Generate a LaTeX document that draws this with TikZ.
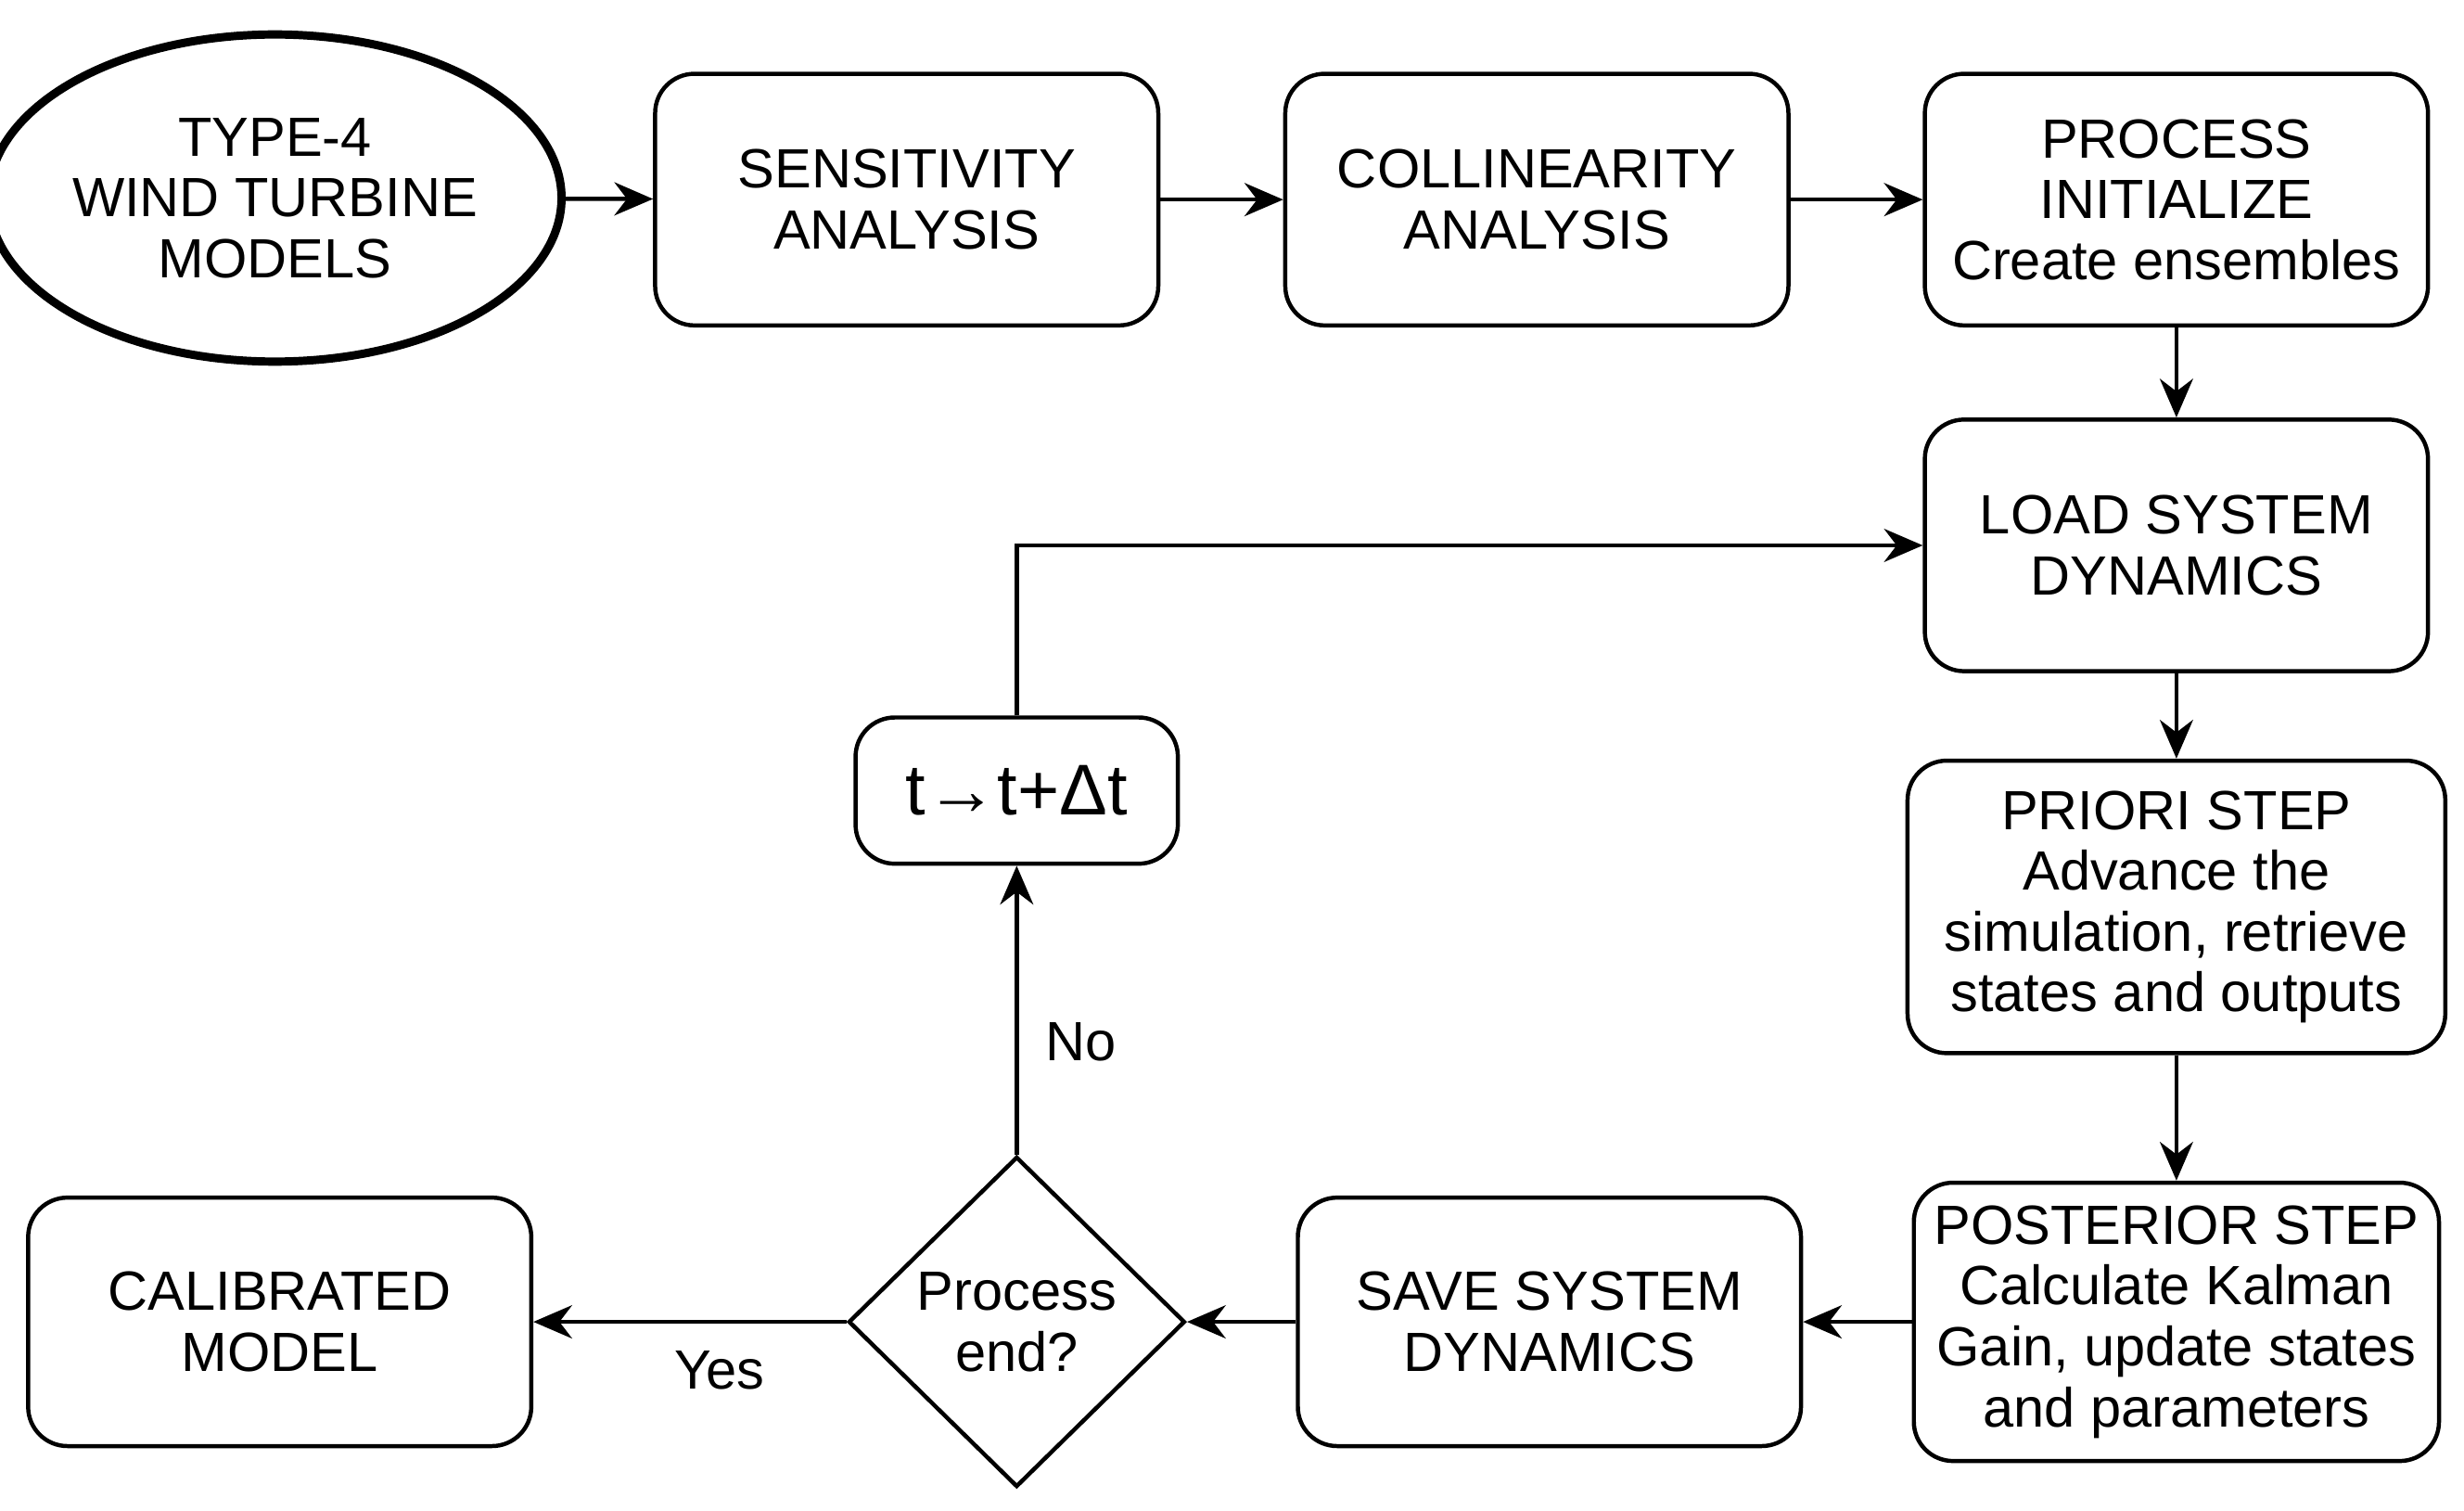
\documentclass[tikz,border=0pt]{standalone}
\usepackage{fontspec}
\setmainfont{Liberation Sans}
\usetikzlibrary{shapes.geometric,arrows.meta}
\begin{document}
\begin{tikzpicture}[x=0.01cm,y=-0.01cm,
  box/.style={draw,line width=0.75pt,rounded corners=0.25cm,align=center,minimum width=3.2cm,minimum height=1.6cm,inner sep=0pt,font=\fontsize{10}{11}\selectfont},
  arr/.style={line width=0.75pt,-{Stealth[length=7pt,width=6pt]}},
  lbl/.style={font=\fontsize{10}{11}\selectfont}]
\useasboundingbox (0,0) rectangle (1568,961);
\node[draw,ellipse,line width=1.5pt,minimum width=2.94cm,minimum height=2.08cm,align=center,inner sep=0pt,font=\fontsize{10}{11}\selectfont] (wt) at (175,126) {TYPE-4\\WIND TURBINE\\MODELS};
\node[box] (sa) at (577,127) {SENSITIVITY\\ANALYSIS};
\node[box] (ca) at (978,127) {COLLINEARITY\\ANALYSIS};
\node[box] (pi) at (1385,127) {PROCESS\\INITIALIZE\\Create ensembles};
\node[box] (ld) at (1385,347) {LOAD SYSTEM\\DYNAMICS};
\node[box,minimum width=3.42cm,minimum height=1.86cm] (pr) at (1385,577) {PRIORI STEP\\Advance the\\simulation, retrieve\\states and outputs};
\node[box,minimum width=3.34cm,minimum height=1.77cm] (po) at (1385,841) {POSTERIOR STEP\\Calculate Kalman\\Gain, update states\\and parameters};
\node[box,minimum height=1.58cm] (sv) at (986,841) {SAVE SYSTEM\\DYNAMICS};
\node[draw,diamond,line width=0.75pt,minimum width=2.14cm,minimum height=2.1cm,inner sep=0pt,align=center,font=\fontsize{10}{11}\selectfont] (pe) at (647,841) {Process\\end?};
\node[box,minimum height=1.58cm] (cm) at (178,841) {CALIBRATED\\MODEL};
\node[box,minimum width=2.05cm,minimum height=0.93cm,font=\fontsize{13}{14}\selectfont] (tt) at (647,503) {t→t+Δt};
\coordinate (c1) at (647,347);
\draw[arr] (wt) -- (sa);
\draw[arr] (sa) -- (ca);
\draw[arr] (ca) -- (pi);
\draw[arr] (pi) -- (ld);
\draw[arr] (ld) -- (pr);
\draw[arr] (pr) -- (po);
\draw[arr] (po) -- (sv);
\draw[arr] (sv) -- (pe);
\draw[arr] (pe) -- (cm);
\draw[arr] (pe) -- (tt);
\draw[arr] (tt.north) -- (c1) -- (ld.west);
\node[lbl] (no) at (688,663) {No};
\node[lbl] (yes) at (458,872) {Yes};
\end{tikzpicture}
\end{document}
